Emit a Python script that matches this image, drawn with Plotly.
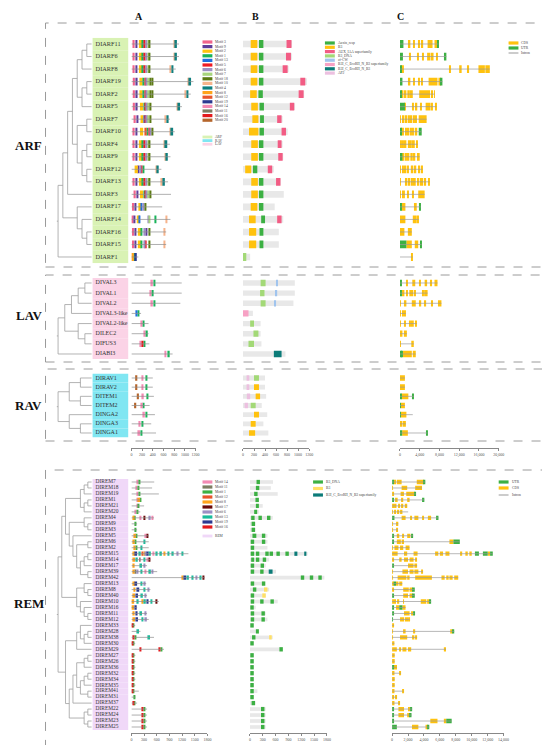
import plotly.graph_objects as go

W, H = 550, 745
FONT = "Liberation Serif"

# ---------------- DATA ----------------
ARF_TREE = [[[[[[["11", "6"], "8"], [["19", "2"], "5"]], [["7", "10"], [["4", "9"], ["12", "13"]]]], "3"],
             ["17", ["14", ["16", "15"]]]], "1"]
LAV_TREE = [[[[["VAL3", "VAL1"], "VAL2"], "VAL3-like"], ["VAL2-like", ["LEC2", "FUS3"]]], "ABI3"]
RAV_TREE = [[["RAV1", "RAV2"], ["TEM1", "TEM2"]], ["NGA2", ["NGA3", "NGA1"]]]
REM_CLADE_A = [[["7", "18"], "19"], [["1", "21"], "20"]]
REM_CLADE_B = [["4", ["9", "3"]], ["5", [["6", "2"], [[["15", "14"], "17"], ["39", "42"]]]]]
REM_CLADE_C = [["13", ["8", "40"]], ["10", ["16", ["11", "12"]]]]
REM_CLADE_D = [["33", [["28", "38"], "30"]], "29"]
REM_CLADE_E = [[[["27", "26"], "36"], [[["32", "34"], "35"], ["41", "31"]]], "37"]
REM_CLADE_F = [["22", "24"], ["23", "25"]]
REM_TREE = [[[REM_CLADE_A, REM_CLADE_B], REM_CLADE_C], [REM_CLADE_D, [REM_CLADE_E, REM_CLADE_F]]]

# protein lengths (aa)
ARF_LEN = {"11": 890, "6": 890, "8": 830, "19": 1160, "2": 1110, "5": 945, "7": 720, "10": 810, "4": 720,
           "9": 730, "12": 560, "13": 685, "3": 740, "17": 575, "14": 730, "16": 650, "15": 650, "1": 130}
LAV_LEN = {"VAL3": 940, "VAL1": 940, "VAL2": 915, "VAL3-like": 180, "VAL2-like": 320, "LEC2": 320,
           "FUS3": 335, "ABI3": 770}
RAV_LEN = {"RAV1": 400, "RAV2": 400, "TEM1": 420, "TEM2": 340, "NGA2": 440, "NGA3": 370, "NGA1": 460}
REM_LEN = {"7": 540, "18": 490, "19": 650, "1": 210, "21": 300, "20": 210, "4": 535, "9": 135, "3": 135,
           "5": 410, "6": 410, "2": 410, "15": 1350, "14": 450, "17": 370, "39": 610, "42": 1740, "13": 350,
           "8": 450, "40": 370, "10": 650, "16": 135, "11": 370, "12": 410, "33": 90, "28": 215, "38": 535,
           "30": 90, "29": 770, "27": 95, "26": 95, "36": 95, "32": 95, "34": 95, "35": 95, "41": 175,
           "31": 95, "37": 135, "22": 370, "24": 370, "23": 370, "25": 370}

# conserved motifs "motif:start"
ARF_MOTIFS = {
    "11": "3:20 9:85 2:140 1:205 5:240 6:265 7:300 18:330 10:790 4:815",
    "6": "3:20 9:85 2:140 1:205 5:240 6:265 7:300 18:330 10:790 4:815",
    "8": "3:20 9:85 2:140 1:205 5:240 6:265 7:300 18:330 10:720 4:750",
    "19": "3:25 9:90 2:150 1:215 5:250 6:275 7:310 18:345 18:390 10:1050 4:1080",
    "2": "3:25 9:90 2:150 1:215 5:250 6:275 7:310 18:345 18:390 10:1000 4:1030",
    "5": "3:25 9:90 2:160 1:225 5:255 6:280 7:315 18:350 10:850 4:875",
    "7": "3:40 9:100 2:170 13:230 5:255 6:280 7:310 18:340 10:630 4:660",
    "10": "3:20 9:85 2:160 12:260 1:290 5:320 6:345 18:380 10:720 4:745",
    "4": "3:20 9:85 2:140 1:205 5:240 6:265 7:300 18:330 10:610 4:635",
    "9": "3:20 9:85 2:140 1:205 5:240 6:265 7:300 18:330 10:620 4:645",
    "12": "2:60 9:120 6:150 5:180 1:210 10:450 4:475",
    "13": "3:20 9:85 2:140 1:205 5:240 6:265 7:300 18:330 10:560 4:590",
    "3": "3:40 9:100 2:160 1:225 5:250 6:275 7:310 18:340",
    "17": "3:10 9:60 2:130 13:170 6:210 18:260",
    "14": "3:0 9:40 2:100 13:140 6:300 7:330 1:440 10:640",
    "16": "3:10 9:60 2:120 1:180 6:230 9:270 18:320 10:600",
    "15": "3:10 9:60 2:120 1:180 6:230 5:260 18:320 10:600",
    "1": "8:0 1:45 19:70"}
LAV_MOTIFS = {"VAL3": "14:370 1:420", "VAL1": "14:340 1:390", "VAL2": "14:370 1:420",
              "VAL3-like": "13:90 1:120", "VAL2-like": "14:170 1:220", "LEC2": "14:230 1:280",
              "FUS3": "14:150 16:200 1:230", "ABI3": "14:620 1:690"}
RAV_MOTIFS = {"RAV1": "20:70 14:190 1:270", "RAV2": "20:70 14:190 1:270", "TEM1": "20:100 14:200 1:290",
              "TEM2": "20:50 14:180 1:220", "NGA2": "14:220 1:270", "NGA3": "14:140 1:190",
              "NGA1": "14:130 1:170"}
REM_MOTIFS = {
    "7": "14:140 1:180", "18": "14:110 1:150", "19": "14:130 1:170", "1": "14:140 8:160 1:190",
    "21": "14:120 1:160", "20": "14:80 1:130", "4": "8:30 1:70 14:200 17:290 6:420 14:480", "9": "1:80",
    "3": "1:80", "5": "8:60 1:110 14:310 17:370", "6": "8:30 1:80 13:290", "2": "8:50 1:100 13:220",
    "15": "8:40 19:90 13:180 12:250 8:290 6:330 19:360 13:420 14:510 13:580 13:680 8:760 13:860 13:960 6:1080 13:1190",
    "14": "8:40 13:110 17:190 13:290 14:370 17:420", "17": "8:30 13:210 6:290",
    "39": "8:30 11:80 6:130 13:220 14:310 13:420 6:480",
    "42": "8:1190 19:1250 13:1320 13:1430 6:1520 13:1620 17:1700", "13": "8:40 19:90 13:220 6:300",
    "8": "8:50 19:140 13:290 6:380", "40": "8:40 19:110 13:230 6:310",
    "10": "8:20 13:130 8:240 13:300 19:360 13:450 17:580", "16": "8:20 19:80", "11": "8:30 19:100 13:210 6:310",
    "12": "8:40 19:110 13:240 6:330", "33": "16:10 1:40", "28": "13:140", "38": "16:40 1:80 13:400",
    "30": "16:10 1:40", "29": "16:200 16:650 1:690", "27": "16:10 1:40", "26": "16:10 1:40",
    "36": "16:10 1:40", "32": "16:10 1:40", "34": "16:10 1:40", "35": "16:10 1:40", "41": "16:10 1:40",
    "31": "1:50", "37": "16:30 1:60", "22": "16:250 1:290", "24": "16:250 1:290", "23": "16:250 1:290",
    "25": "16:250 1:290"}

# protein domains "key:start-end"
ARF_DOMAINS = {
    "11": "B3:140-260 AR:290-370 AUX:790-880", "6": "B3:140-260 AR:290-370 AUX:780-870",
    "8": "B3:140-260 AR:290-370 AUX:720-810", "19": "B3:140-260 AR:290-370 AUX:1040-1130",
    "2": "B3:130-250 AR:280-360 AUX:1010-1100", "5": "B3:150-270 AR:300-380 AUX:850-930",
    "7": "B3:170-280 AR:310-380 AUX:620-700", "10": "B3:110-280 AR:300-380 AUX:700-780",
    "4": "B3:150-270 AR:290-370 AUX:630-700", "9": "B3:150-270 AR:290-370 AUX:640-720",
    "12": "B3:40-150 AR:180-260 AUX:450-530", "13": "B3:150-270 AR:290-370 AUX:600-680",
    "3": "B3:150-270 AR:290-370", "17": "B3:140-260 AR:290-370", "14": "B3:110-230 AR:330-400 AUX:620-700",
    "16": "B3:110-240 AR:300-370", "15": "B3:110-240 AR:300-370", "1": "B3D:0-60"}
LAV_DOMAINS = {"VAL3": "B3D:320-410 ZF:600-630", "VAL1": "B3D:310-390 ZF:590-620", "VAL2": "B3D:320-410 ZF:570-600",
               "VAL3-like": "SUP:0-100", "VAL2-like": "B3D:130-200", "LEC2": "B3D:190-280", "FUS3": "B3D:100-200",
               "ABI3": "B3I:560-700"}
RAV_DOMAINS = {"RAV1": "AP2:65-115 B3D:200-290", "RAV2": "AP2:65-115 B3:200-290", "TEM1": "AP2:70-130 B3:230-310",
               "TEM2": "AP2:30-90 B3D:140-230", "NGA2": "B3:200-290", "NGA3": "B3:140-230", "NGA1": "B3:110-220"}
REM_DOMAINS = {
    "7": "B3D:155-235", "18": "B3D:140-220", "19": "B3D:100-180", "1": "B3D:130-210", "21": "B3D:140-210",
    "20": "B3D:100-170", "4": "B3D:30-110 B3D:200-280 B3D:400-480", "9": "B3D:40-120", "3": "B3D:40-120",
    "5": "B3D:60-150 B3D:280-360", "6": "B3D:20-100 B3D:280-360", "2": "B3D:20-100",
    "15": "B3D:20-100 B3D:140-220 B3D:360-440 B3D:460-540 B3D:620-700 B3D:830-910 SUP:1040-1110 SUP:1270-1320",
    "14": "B3D:30-100 B3D:140-220 B3D:300-380", "17": "B3D:20-100 B3D:250-330",
    "39": "B3D:20-100 B3D:240-320 SUP:440-530", "42": "B3D:1190-1270 B3D:1400-1480 B3D:1600-1680",
    "13": "B3D:20-100 B3D:280-360", "8": "B3D:70-150 B3:330-410", "40": "B3D:20-100 B3:290-370",
    "10": "B3D:20-100 B3D:240-320 B3D:480-560", "16": "B3D:10-90", "11": "B3D:20-100 B3D:270-350",
    "12": "B3D:20-100 B3D:270-350", "33": "B3D:10-90", "28": "B3D:140-210", "38": "B3D:50-130 B3:450-510",
    "30": "B3D:10-90", "29": "B3D:690-770", "27": "B3D:10-90", "26": "B3D:10-90", "36": "B3D:10-90",
    "32": "B3D:10-90", "34": "B3D:10-90", "35": "B3D:10-90", "41": "B3D:10-90", "31": "B3D:10-90",
    "37": "B3D:40-120", "22": "B3D:260-340", "24": "B3D:260-340", "23": "B3D:260-340", "25": "B3D:260-340"}

# gene structures (bp) "U/C start-end" plus total gene length
ARF_GENE_LEN = {"11": 7800, "6": 9400, "8": 18200, "19": 8600, "2": 7000, "5": 7400, "7": 5400, "10": 4400,
                "4": 3600, "9": 4000, "12": 4600, "13": 6000, "3": 5000, "17": 4200, "14": 3800, "16": 2400,
                "15": 4400, "1": 2600}
ARF_EXONS = {
    "11": "U0-700 C1700-2100 C2800-3000 C3700-4000 C4400-4700 C5600-6600 C7000-7600 U7600-7800",
    "6": "U0-600 C1900-2200 C3500-3800 C4500-4800 C5500-6100 C6200-6800 C7300-7600 U9000-9400",
    "8": "U0-300 C400-800 C10000-10300 C12000-12500 C13700-14000 C15900-17200 C17300-18200",
    "19": "U0-500 C1800-2100 C2700-3000 C3700-4000 C4300-4600 C5800-7600 C7800-8300 U8300-8600",
    "2": "U0-300 C400-700 C1000-1300 C1500-2000 C2200-2600 C3900-6100 C6400-6700 C6900-7000",
    "5": "U0-1000 C1000-1200 C2500-2800 C3200-3500 C4100-4400 C5200-6200 C6400-6600 C7100-7400",
    "7": "C0-200 C600-900 C1200-1500 C1700-2000 C2200-2500 C2700-3000 C3100-3400 C3800-5400",
    "10": "U0-400 C400-800 C1100-1400 C1600-1900 C2100-2400 C2600-2800 C3000-3500 U3800-4400",
    "4": "C0-300 C500-800 C1000-1300 C1600-2400 C2600-3000 C3300-3600",
    "9": "U0-500 C600-900 C1100-1400 C1600-1900 C2100-2600 C2800-3100 C3600-4000",
    "12": "C0-200 C500-800 C1000-1300 C1500-1800 C2200-2700 C3000-3300 C3800-4100 C4300-4600",
    "13": "C0-200 C1200-1500 C1800-2100 C2300-2600 C2800-3200 C3500-3800 C4000-4700 C5000-5300 C5700-6000",
    "3": "C0-200 C600-1000 C1500-1800 C2500-2800 C3700-5000",
    "17": "U0-300 C300-1100 C3000-3400 U4000-4200",
    "14": "C0-1100 C2600-3400 C3600-3800",
    "16": "C0-900 C1600-2400",
    "15": "U0-1300 C1300-2400 C3000-3700 U4200-4400",
    "1": "C2300-2600"}
LAV_GENE_LEN = {"VAL3": 7600, "VAL1": 5600, "VAL2": 8400, "VAL3-like": 1200, "VAL2-like": 3400, "LEC2": 1400,
                "FUS3": 2800, "ABI3": 3200}
LAV_EXONS = {"VAL3": "U0-400 C1300-1600 C2500-3100 C3900-4200 C5000-5500 C6200-6500 C7000-7600",
             "VAL1": "U0-400 C400-900 C1300-1600 C1900-2700 C2900-3200 C4500-4700 C4900-5600",
             "VAL2": "C0-200 C1000-1300 C2400-3200 C3900-4300 C5000-5300 C6400-6700 C7700-8400",
             "VAL3-like": "C0-200 C500-700 C1000-1200", "VAL2-like": "C0-200 C1000-1200 C1900-2100 C2400-2800 C3100-3400",
             "LEC2": "C0-500 C800-1400", "FUS3": "C0-200 C2300-2800", "ABI3": "U0-300 U400-600 C600-2400 C2600-3200"}
RAV_GENE_LEN = {"RAV1": 1000, "RAV2": 1000, "TEM1": 2800, "TEM2": 1000, "NGA2": 2600, "NGA3": 1200, "NGA1": 5600}
RAV_EXONS = {"RAV1": "C0-1000", "RAV2": "C0-1000", "TEM1": "U0-300 C300-1700 U2600-2800", "TEM2": "U0-200 C200-1000",
             "NGA2": "U0-150 C150-1300", "NGA3": "C0-450 C550-1200", "NGA1": "U0-450 C450-1600 U5400-5600"}
REM_GENE_LEN = {"7": 4170, "18": 3760, "19": 3000, "1": 4050, "21": 1900, "20": 2020, "4": 5820, "9": 780,
                "3": 740, "5": 2640, "6": 8500, "2": 2190, "15": 12640, "14": 3060, "17": 3140, "39": 3880,
                "42": 8300, "13": 1280, "8": 2850, "40": 2850, "10": 4900, "16": 1690, "11": 2800, "12": 2190,
                "33": 250, "28": 7800, "38": 3140, "30": 290, "29": 6770, "27": 330, "26": 330, "36": 620,
                "32": 1110, "34": 330, "35": 330, "41": 1440, "31": 580, "37": 990, "22": 2520, "24": 2440,
                "23": 7480, "25": 4670}
REM_EXONS = {
    "7": "U0-150 C200-500 C600-1200 C3100-4000 U4000-4170", "18": "C0-100 C1200-1900 C2900-3760",
    "19": "C0-250 C1070-1490 C1780-2850 U2850-3000", "1": "U0-200 C500-700 C1200-1400 C1900-2200 U3800-4050",
    "21": "C0-150 C350-550 C800-1000 C1200-1400 C1600-1900", "20": "C0-100 C300-500 C700-900 C1100-1300",
    "4": "U0-300 C1200-1700 C2300-2400 C2800-3300 C3800-4000 C4500-4900 U5600-5820", "9": "C0-100 C600-780",
    "3": "C0-100 C550-740", "5": "U0-150 C600-900 C1300-1500 C1900-2300 U2400-2640",
    "6": "U0-150 C600-1100 C1200-1500 C7200-7700 U7700-8500", "2": "C0-100 C300-800 C1000-1400 C1700-2190",
    "15": "C0-700 C1500-1900 C2700-3200 C5400-5800 C6000-6400 C6700-7200 C8600-8800 C9200-9500 C9700-10000 U10400-10900 U11400-12000 C12000-12300 U12300-12640",
    "14": "C0-200 C900-1200 C1500-2000 C2200-2700 C2900-3060", "17": "U0-150 C2000-2700 C2800-3140",
    "39": "C0-100 C1300-2000 C2200-2700 C2800-3300 C3700-3880",
    "42": "C0-100 C700-1800 C1900-2200 C2900-5000 C6200-6600 C6800-7100 C7200-7600 C7800-8300",
    "13": "C0-200 U200-500 C500-800 C900-1280", "8": "C0-200 C1400-2100 C2200-2600 U2600-2850",
    "40": "U0-200 C1400-2000 C2200-2600 U2600-2850", "10": "C0-500 C700-900 C1400-1500 C3600-4300 C4400-4700 U4700-4900",
    "16": "U0-200 C500-900 U900-1300 C1300-1690", "11": "U0-150 C1500-2200 C2400-2600 U2650-2800",
    "12": "U0-100 C1000-1500 C1600-2000 C2100-2190", "33": "C0-250",
    "28": "C0-100 C1500-1700 C2700-2900 C7300-7600 U7600-7800", "38": "C0-100 C1000-1900 C2600-2800 C2900-3140",
    "30": "C0-290", "29": "C0-600 C900-1100 C1300-1800 C2000-2400 C6500-6770", "27": "C0-330", "26": "C0-330",
    "36": "U0-200 C200-620", "32": "C0-300 C1000-1110", "34": "C0-330", "35": "C0-330", "41": "C0-300 C1300-1440",
    "31": "C0-200 C400-580", "37": "C0-300 C850-990", "22": "U0-150 C800-1500 C2000-2300 U2300-2520",
    "24": "U0-150 C800-1500 C1900-2200 U2200-2440", "23": "U0-150 C4800-5700 C6500-6800 U6800-7480",
    "25": "U0-600 C2500-3300 C4200-4500 U4500-4670"}

# legend / colour tables
ARF_MOTIF_ORDER = [3, 9, 2, 1, 13, 5, 6, 7, 18, 10, 4, 8, 12, 19, 14, 11, 16, 20]
ARF_MOTIF_COL = {3: "#f0648c", 9: "#5e3c99", 2: "#ffc20e", 1: "#19b35a", 13: "#1f6fe0", 5: "#ee1c25",
                 6: "#9d8fc4", 7: "#a8d57d", 18: "#5c7a14", 10: "#f6b48c", 4: "#0e7f7f", 8: "#ffa31a",
                 12: "#e8552b", 19: "#2b3990", 14: "#f38ab3", 11: "#7d7d62", 16: "#e31a1c", 20: "#b5652b"}
ARF_MOTIF_W = {3: 40, 9: 25, 2: 60, 1: 25, 13: 20, 5: 25, 6: 30, 7: 25, 18: 20, 10: 25, 4: 35, 8: 45,
               12: 25, 19: 30, 14: 30, 11: 25, 16: 20, 20: 40}
REM_MOTIF_ORDER = [14, 11, 1, 12, 8, 17, 6, 13, 19, 16]
REM_MOTIF_COL = {14: "#f38ab3", 11: "#7d7d62", 1: "#3cb043", 12: "#e8552b", 8: "#ffa31a", 17: "#6b0a0a",
                 6: "#9d8fc4", 13: "#1abc9c", 19: "#2b3990", 16: "#e31a1c"}
REM_MOTIF_W = {14: 30, 11: 25, 1: 30, 12: 25, 8: 45, 17: 20, 6: 35, 13: 40, 19: 45, 16: 20}
DOM_NAMES = {"AR": "Auxin_resp", "B3": "B3", "AUX": "AUX_IAA superfamily", "B3D": "B3_DNA", "ZF": "zf-CW",
             "SUP": "B3I_C_EcoRII_N_B3 superfamily", "B3I": "B3I_C_EcoRII_N_B3", "AP2": "AP2"}
DOM_ORDER = ["AR", "B3", "AUX", "B3D", "ZF", "SUP", "B3I", "AP2"]
DOM_COL = {"AR": "#3cb043", "B3": "#ffc20e", "AUX": "#f25c84", "B3D": "#a3d977", "ZF": "#a0c4ee",
           "SUP": "#f7a1c4", "B3I": "#0b7b78", "AP2": "#ecc0e0"}
REM_DOM_ORDER = ["B3D", "B3", "SUP"]
REM_DOM_COL = {"B3D": "#3cb043", "B3": "#ffe066", "SUP": "#0b7b78"}
EX_COL = {"C": "#ffc20e", "U": "#3cb043"}
FAMILY_NAMES = ["ARF", "RAV", "LAV"]
FAMILY_COL = {"ARF": "#d9f2b4", "LAV": "#fbd3e6", "RAV": "#80e6f2", "REM": "#f0d8f8"}

SECTIONS = [
    dict(name="ARF", prefix="DIARF", tree=ARF_TREE, length=ARF_LEN, motifs=ARF_MOTIFS, domains=ARF_DOMAINS,
         glen=ARF_GENE_LEN, exons=ARF_EXONS, rows=(36, 249), lab_y=137, fs=6.3),
    dict(name="LAV", prefix="DI", tree=LAV_TREE, length=LAV_LEN, motifs=LAV_MOTIFS, domains=LAV_DOMAINS,
         glen=LAV_GENE_LEN, exons=LAV_EXONS, rows=(275, 346), lab_y=307, fs=6.0),
    dict(name="RAV", prefix="DI", tree=RAV_TREE, length=RAV_LEN, motifs=RAV_MOTIFS, domains=RAV_DOMAINS,
         glen=RAV_GENE_LEN, exons=RAV_EXONS, rows=(370, 425), lab_y=397, fs=6.0),
    dict(name="REM", prefix="DIREM", tree=REM_TREE, length=REM_LEN, motifs=REM_MOTIFS, domains=REM_DOMAINS,
         glen=REM_GENE_LEN, exons=REM_EXONS, rows=(474, 719), lab_y=595, fs=5.4),
]

# ---------------- helpers ----------------
def px(x): return x / W
def py(y): return 1 - y / H

def parse_motifs(s): return [(int(a), float(b)) for a, b in (t.split(":") for t in s.split())]
def parse_dom(s):
    out = []
    for t in s.split():
        k, r = t.split(":"); a, b = r.split("-"); out.append((k, float(a), float(b)))
    return out
def parse_ex(s):
    out = []
    for t in s.split():
        a, b = t[1:].split("-"); out.append((t[0], float(a), float(b)))
    return out

def tree_layout(tree):
    leaves, segs = [], []
    def height(n): return 0 if isinstance(n, str) else 1 + max(height(c) for c in n)
    Hh = height(tree)
    def walk(n):
        if isinstance(n, str):
            leaves.append(n); return (1.0, len(leaves) - 1)
        pts = [walk(c) for c in n]
        x = 1 - height(n) / Hh
        ys = [p[1] for p in pts]
        segs.append(((x, min(ys)), (x, max(ys))))
        for cx, cy in pts: segs.append(((x, cy), (cx, cy)))
        return (x, (min(ys) + max(ys)) / 2)
    rx, ry = walk(tree)
    segs.append(((-0.04, ry), (0, ry)))
    return leaves, segs

fig = go.Figure()
layout = dict(width=W, height=H, margin=dict(l=0, r=0, t=0, b=0), paper_bgcolor="white",
              plot_bgcolor="rgba(0,0,0,0)", showlegend=False, barmode="overlay",
              font=dict(family=FONT, color="#333"))

def add_bars(segs, color, xa, ya, width):
    if not segs: return
    fig.add_trace(go.Bar(orientation="h", y=[s[0] for s in segs], base=[s[1] for s in segs],
                         x=[s[2] - s[1] for s in segs], width=width, marker=dict(color=color, line=dict(width=0)),
                         xaxis=xa, yaxis=ya, hoverinfo="skip"))

def add_lines(pairs, xa, ya, color="#9a9a9a", w=0.7):
    xs, ys = [], []
    for (x0, y0), (x1, y1) in pairs:
        xs += [x0, x1, None]; ys += [y0, y1, None]
    fig.add_trace(go.Scatter(x=xs, y=ys, mode="lines", line=dict(color=color, width=w), xaxis=xa, yaxis=ya,
                             hoverinfo="skip"))

COLS = {
    "std": {1: (124, 189, 1200), 2: (237, 304, 1200), 3: (396, 496, 20000)},
    "rem": {1: (124, 201, 1800), 2: (244, 322, 1800), 3: (388, 501, 14000)},
}
DTICK = {"std": {1: 200, 2: 200, 3: 4000}, "rem": {1: 300, 2: 300, 3: 2000}}

for si, sec in enumerate(SECTIONS):
    ya = "y" if si == 0 else f"y{si + 1}"
    leaves, segs = tree_layout(sec["tree"])
    n = len(leaves)
    r0, r1 = sec["rows"]
    sp = (r1 - r0) / (n - 1)
    layout["yaxis" if si == 0 else f"yaxis{si + 1}"] = dict(
        domain=[py(r1 + sp / 2), py(r0 - sp / 2)], range=[n - 0.5, -0.5], visible=False, fixedrange=True)
    kind = "rem" if sec["name"] == "REM" else "std"
    axn = [si * 4 + c + 1 for c in range(4)]
    xas = ["x" if a == 1 else f"x{a}" for a in axn]
    layout["xaxis" if axn[0] == 1 else f"xaxis{axn[0]}"] = dict(
        domain=[px(48), px(121)], range=[-0.05, 2.1], visible=False, anchor=ya)
    for c in (1, 2, 3):
        a0, a1, rng = COLS[kind][c]
        ax = dict(domain=[px(a0), px(a1)], range=[0, rng], anchor=ya, showgrid=False, zeroline=False)
        if sec["name"] in ("RAV", "REM"):
            ax.update(anchor="free", position=py(440 if sec["name"] == "RAV" else 725), showline=True,
                      linecolor="#888", linewidth=0.6, ticks="outside", ticklen=2, tickwidth=0.5,
                      tickcolor="#888", dtick=DTICK[kind][c], tickfont=dict(size=4, color="#555"),
                      tickformat="," if c == 3 else "d")
        else:
            ax.update(visible=False)
        layout[f"xaxis{axn[c]}"] = ax
    rows = {g: i for i, g in enumerate(leaves)}
    names = [sec["prefix"] + g for g in leaves]
    add_bars([(i, 1.03, 2.1) for i in range(n)], FAMILY_COL[sec["name"]], xas[0], ya, 1.0)
    add_lines(segs, xas[0], ya, "#a0a0a0", 0.8)
    fig.add_trace(go.Scatter(x=[1.12] * n, y=list(range(n)), text=names, mode="text",
                             textposition="middle right", textfont=dict(size=sec["fs"], family=FONT, color="#333"),
                             xaxis=xas[0], yaxis=ya, hoverinfo="skip"))
    mw = REM_MOTIF_W if kind == "rem" else ARF_MOTIF_W
    mc = REM_MOTIF_COL if kind == "rem" else ARF_MOTIF_COL
    dc = REM_DOM_COL if kind == "rem" else DOM_COL
    bw = 0.72 if kind == "rem" else 0.62
    add_lines([((0, rows[g]), (sec["length"][g], rows[g])) for g in leaves], xas[1], ya, "#8c8c8c", 0.7)
    for m, col in mc.items():
        add_bars([(rows[g], s, s + mw[m]) for g in leaves for mm, s in parse_motifs(sec["motifs"][g]) if mm == m],
                 col, xas[1], ya, bw)
    add_bars([(rows[g], 0, sec["length"][g]) for g in leaves], "#e8e8e8", xas[2], ya, bw * 0.85)
    for k, col in dc.items():
        add_bars([(rows[g], a, b) for g in leaves for kk, a, b in parse_dom(sec["domains"][g]) if kk == k],
                 col, xas[2], ya, bw)
    add_lines([((0, rows[g]), (sec["glen"][g], rows[g])) for g in leaves], xas[3], ya, "#9a9a9a", 0.7)
    for t, col in EX_COL.items():
        add_bars([(rows[g], a, b) for g in leaves for tt, a, b in parse_ex(sec["exons"][g]) if tt == t],
                 col, xas[3], ya, bw)

fig.update_layout(**layout)

# ---------------- frames, titles, legends ----------------
shapes, ann = [], []
for (x0, y0, x1, y1) in [(37, 15, 544, 259), (37, 267, 544, 354), (37, 361, 544, 433), (37, 462, 544, 739)]:
    shapes.append(dict(type="rect", xref="paper", yref="paper", x0=px(x0), x1=px(x1), y0=py(y1), y1=py(y0),
                       line=dict(color="#9a9a9a", width=1, dash="dash")))

def note(x, y, text, size, color="#111", xanchor="center"):
    ann.append(dict(xref="paper", yref="paper", x=px(x), y=py(y), text=text, showarrow=False,
                    xanchor=xanchor, yanchor="middle", font=dict(size=size, family=FONT, color=color)))

for sec in SECTIONS:
    note(20, sec["lab_y"], "<b>%s</b>" % sec["name"], 13)
for t, x in (("A", 132), ("B", 250), ("C", 397)):
    note(x, 8, "<b>%s</b>" % t, 10)

def legend_item(x, y, color, label, w=10, h=3.2, line=False):
    if line:
        shapes.append(dict(type="line", xref="paper", yref="paper", x0=px(x), x1=px(x + w), y0=py(y), y1=py(y),
                           line=dict(color="#999", width=1)))
    else:
        shapes.append(dict(type="rect", xref="paper", yref="paper", x0=px(x), x1=px(x + w), y0=py(y + h / 2),
                           y1=py(y - h / 2), fillcolor=color, line=dict(width=0)))
    note(x + w + 1, y, label, 3.6, "#444", "left")

for i, m in enumerate(ARF_MOTIF_ORDER):
    legend_item(196, 34 + i * 4.6, ARF_MOTIF_COL[m], "Motif %d" % m)
for i, f in enumerate(FAMILY_NAMES):
    legend_item(196, 129 + i * 3.6, FAMILY_COL[f], f, h=2.8)
for i, k in enumerate(DOM_ORDER):
    legend_item(320, 35 + i * 4.3, DOM_COL[k], DOM_NAMES[k])
legend_item(506, 35, EX_COL["C"], "CDS")
legend_item(506, 40, EX_COL["U"], "UTR")
legend_item(506, 45, None, "Intron", line=True)
for i, m in enumerate(REM_MOTIF_ORDER):
    legend_item(196, 474 + i * 5, REM_MOTIF_COL[m], "Motif %d" % m)
legend_item(196, 528, FAMILY_COL["REM"], "REM", h=2.8)
for i, k in enumerate(REM_DOM_ORDER):
    legend_item(308, 474 + i * 6.5, REM_DOM_COL[k], DOM_NAMES[k])
legend_item(496, 474, EX_COL["U"], "UTR")
legend_item(496, 480, EX_COL["C"], "CDS")
legend_item(496, 487, None, "Intron", line=True)

fig.update_layout(shapes=shapes, annotations=ann)
fig.write_html("out.html")
